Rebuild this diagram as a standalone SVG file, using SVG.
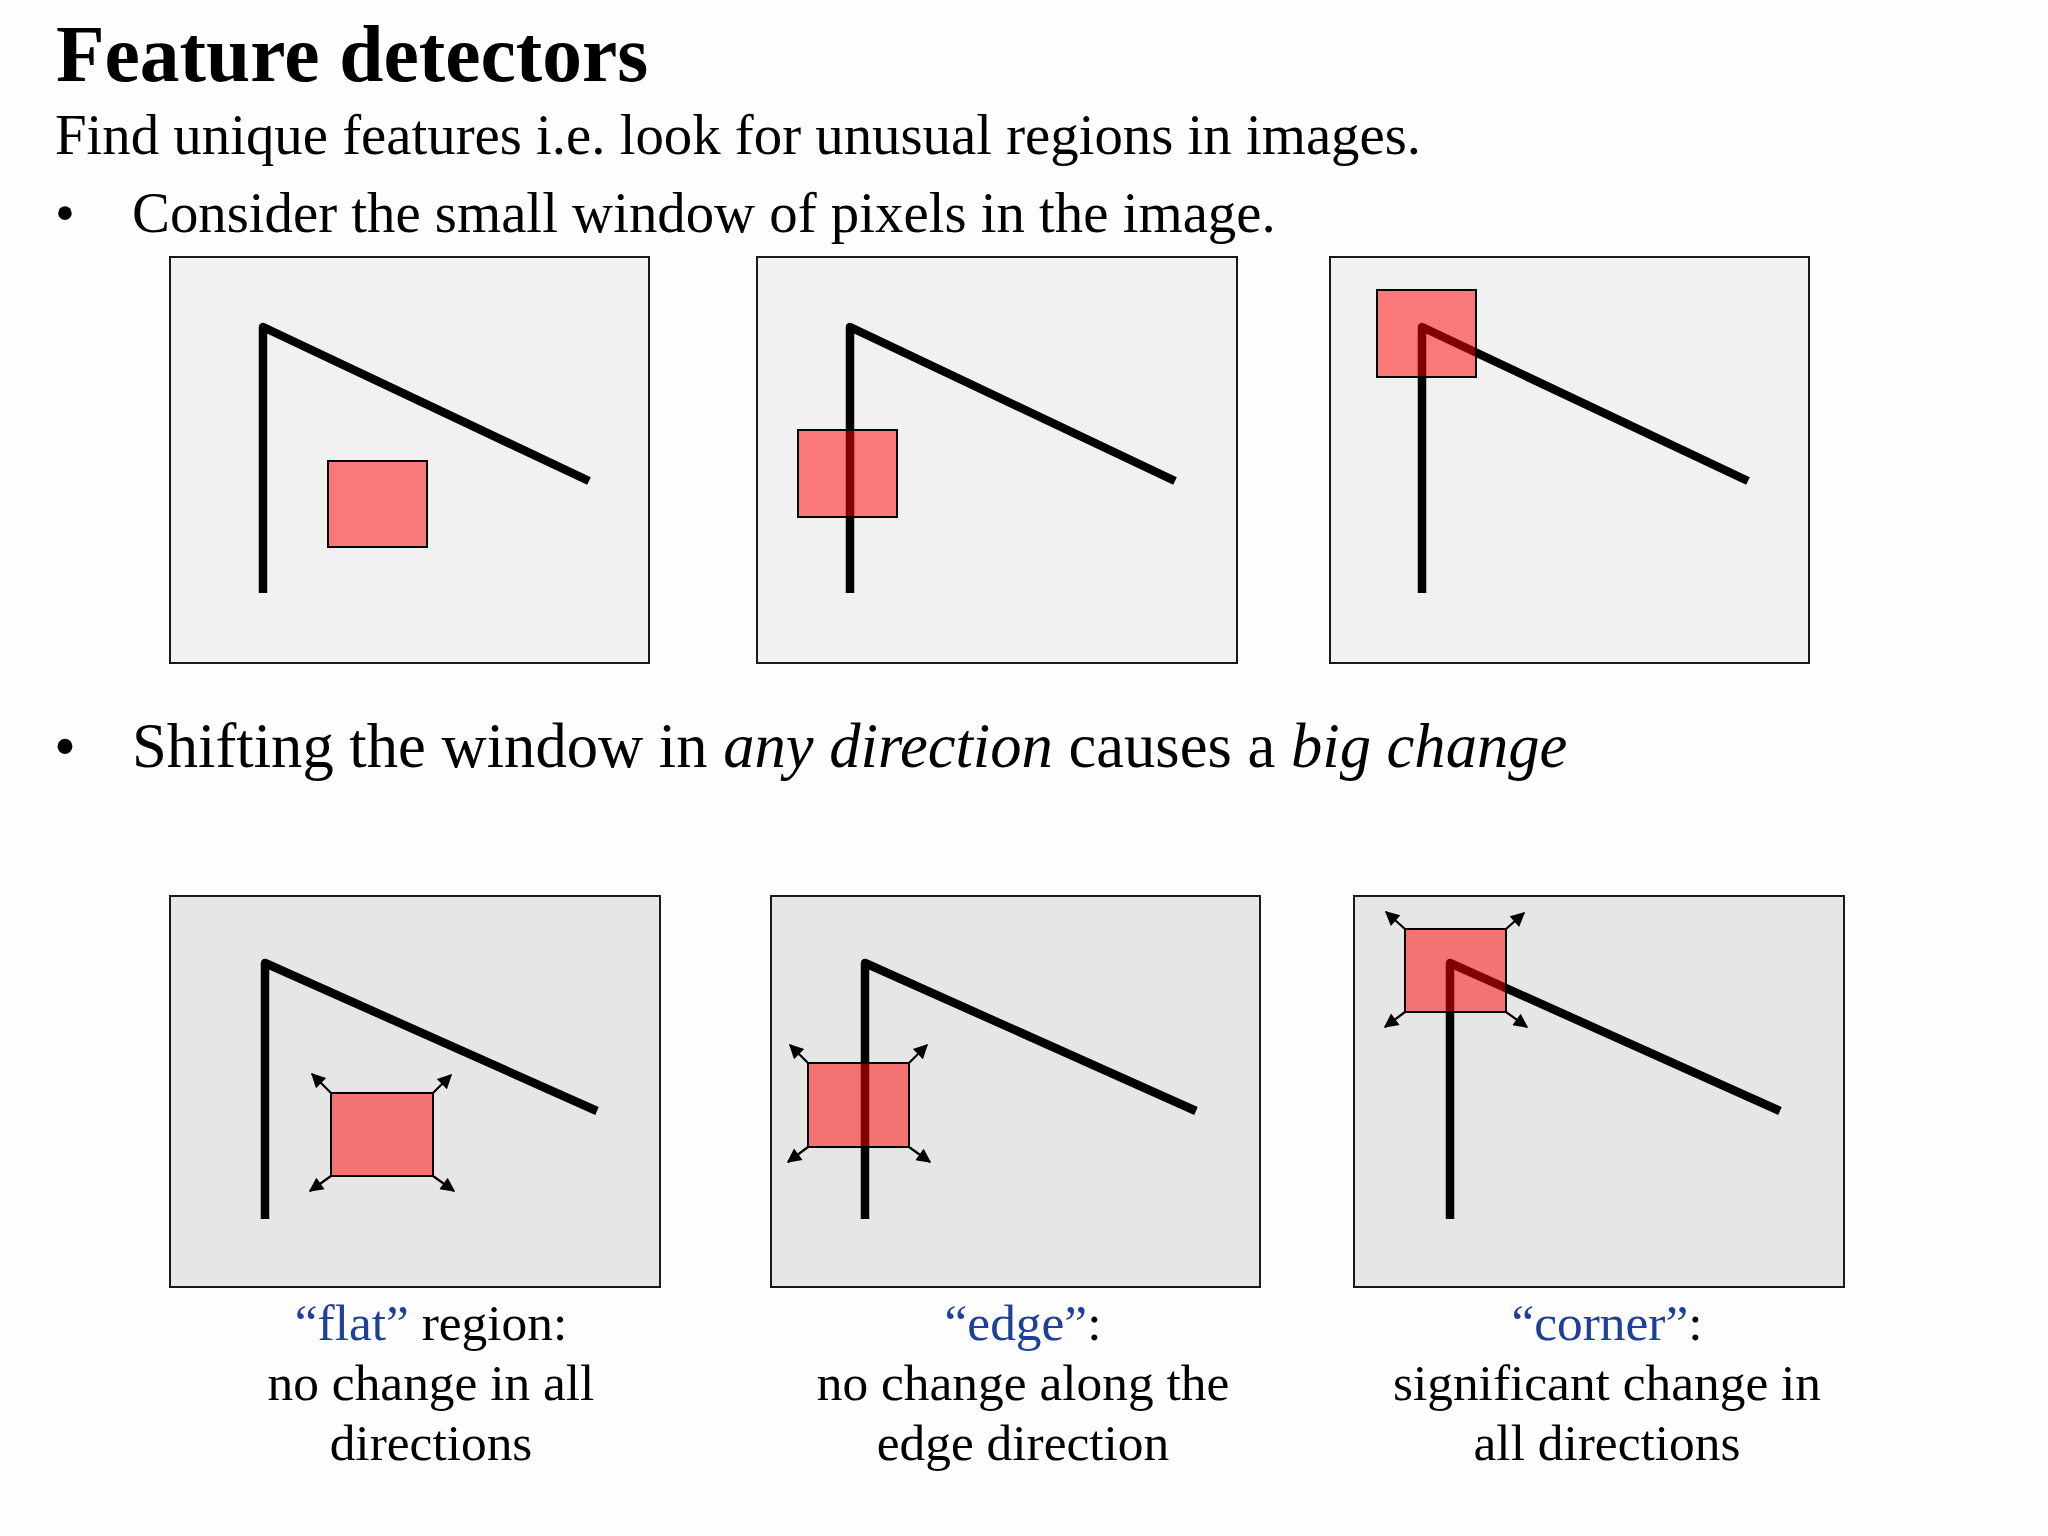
<svg xmlns="http://www.w3.org/2000/svg" width="2048" height="1536" viewBox="0 0 2048 1536">
<defs>
<style>
text{font-family:"Liberation Serif","Times New Roman",serif;fill:#000}
.title{font-size:79.5px;font-weight:bold}
.body{font-size:56.8px}
.big{font-size:62.6px}
.cap{font-size:51.4px;text-anchor:middle}
.blue{fill:#1f409a}
.top{fill:#f2f1f1;stroke:#1a1a1a;stroke-width:2}
.bot{fill:#e7e6e7;stroke:#1a1a1a;stroke-width:2}
.shape{fill:none;stroke:#000;stroke-width:8.5;stroke-linejoin:round;stroke-linecap:butt}
.win{fill:#ff0000;fill-opacity:0.5;stroke:#000;stroke-width:2}
.arr{stroke:#000;stroke-width:2.2;fill:none;marker-end:url(#ah)}
</style>
<marker id="ah" viewBox="0 0 10 10" refX="9" refY="5" markerWidth="7.5" markerHeight="6.5" orient="auto" markerUnits="strokeWidth">
<path d="M0,0 L10,5 L0,10 z" fill="#000"/>
</marker>
</defs>
<rect width="2048" height="1536" fill="#fefefe"/>

<g id="header">
<text class="title" x="56" y="81">Feature detectors</text>
<text class="body" x="55" y="154">Find unique features i.e. look for unusual regions in images.</text>
<text class="body" x="65" y="232" text-anchor="middle">•</text>
<text class="body" x="132" y="232">Consider the small window of pixels in the image.</text>
<text class="big" x="65" y="767" text-anchor="middle">•</text>
<text class="big" x="132" y="767">Shifting the window in <tspan font-style="italic">any direction</tspan> causes a <tspan font-style="italic">big change</tspan></text>
</g>

<g id="top1">
<rect class="top" x="170" y="257" width="479" height="406"/>
<polyline class="shape" points="263,593 263,327 589,481"/>
<rect class="win" x="328" y="461" width="99" height="86"/>
</g>
<g id="top2">
<rect class="top" x="757" y="257" width="480" height="406"/>
<polyline class="shape" points="850,593 850,327 1175,481"/>
<rect class="win" x="798" y="430" width="99" height="87"/>
</g>
<g id="top3">
<rect class="top" x="1330" y="257" width="479" height="406"/>
<polyline class="shape" points="1422,593 1422,327 1748,481"/>
<rect class="win" x="1377" y="290" width="99" height="87"/>
</g>

<g id="bot1">
<rect class="bot" x="170" y="896" width="490" height="391"/>
<polyline class="shape" points="265,1219 265,963 597,1111"/>
<rect class="win" x="331" y="1093" width="102" height="83"/>
</g>
<g id="bot2">
<rect class="bot" x="771" y="896" width="489" height="391"/>
<polyline class="shape" points="865,1219 865,963 1196,1111"/>
<rect class="win" x="808" y="1063" width="101" height="84"/>
</g>
<g id="bot3">
<rect class="bot" x="1354" y="896" width="490" height="391"/>
<polyline class="shape" points="1450,1219 1450,963 1780,1111"/>
<rect class="win" x="1405" y="929" width="101" height="83"/>
</g>

<g id="connectors">
<line class="arr" x1="331" y1="1093" x2="312" y2="1074"/>
<line class="arr" x1="433" y1="1093" x2="451" y2="1075"/>
<line class="arr" x1="331" y1="1176" x2="310" y2="1191"/>
<line class="arr" x1="433" y1="1176" x2="454" y2="1191"/>

<line class="arr" x1="808" y1="1063" x2="790" y2="1045"/>
<line class="arr" x1="909" y1="1063" x2="927" y2="1045"/>
<line class="arr" x1="808" y1="1147" x2="788" y2="1162"/>
<line class="arr" x1="909" y1="1147" x2="930" y2="1162"/>

<line class="arr" x1="1405" y1="929" x2="1386" y2="912"/>
<line class="arr" x1="1506" y1="929" x2="1524" y2="913"/>
<line class="arr" x1="1405" y1="1012" x2="1385" y2="1027"/>
<line class="arr" x1="1506" y1="1012" x2="1527" y2="1027"/>
</g>

<g id="caption1">
<text class="cap" x="431" y="1340"><tspan class="blue">“flat”</tspan> region:</text>
<text class="cap" x="431" y="1400">no change in all</text>
<text class="cap" x="431" y="1460">directions</text>
</g>
<g id="caption2">
<text class="cap" x="1023" y="1340"><tspan class="blue">“edge”</tspan>:</text>
<text class="cap" x="1023" y="1400">no change along the</text>
<text class="cap" x="1023" y="1460">edge direction</text>
</g>
<g id="caption3">
<text class="cap" x="1607" y="1340"><tspan class="blue">“corner”</tspan>:</text>
<text class="cap" x="1607" y="1400">significant change in</text>
<text class="cap" x="1607" y="1460">all directions</text>
</g>
</svg>
